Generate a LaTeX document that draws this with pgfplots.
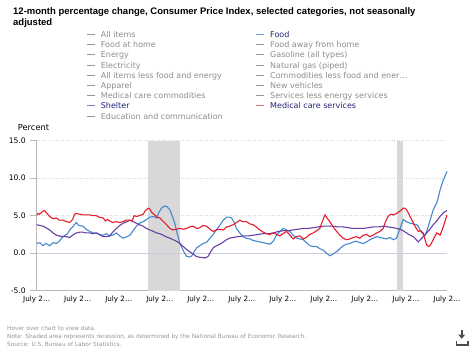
\documentclass[border=0pt]{standalone}
\usepackage{pgfplots}
\pgfplotsset{compat=1.18}
\usepackage{fontspec}
\setmainfont{DejaVu Sans}
\newfontfamily\titlefont{Liberation Sans}
\definecolor{foodc}{RGB}{70,135,205}
\definecolor{shelterc}{RGB}{105,65,165}
\definecolor{medc}{RGB}{228,28,45}
\definecolor{foodd}{RGB}{120,160,220}
\definecolor{shelterd}{RGB}{130,120,180}
\definecolor{medd}{RGB}{220,110,110}
\definecolor{graytext}{RGB}{140,140,140}
\definecolor{graydash}{RGB}{150,150,150}
\definecolor{navy}{RGB}{35,35,120}
\definecolor{axisgray}{RGB}{185,185,185}
\definecolor{gridgray}{RGB}{215,215,215}
\definecolor{recshade}{RGB}{216,216,216}
\definecolor{zeroline}{RGB}{205,205,225}
\definecolor{footgray}{RGB}{150,150,150}
\begin{document}
\begin{tikzpicture}[x=1pt,y=1pt]
\useasboundingbox (0,0) rectangle (474,351);
% title
\node[anchor=base west,inner sep=0] at (13,351-15) {\titlefont\bfseries\fontsize{9.5}{11}\selectfont 12-month percentage change, Consumer Price Index, selected categories, not seasonally};
\node[anchor=base west,inner sep=0] at (13,351-26) {\titlefont\bfseries\fontsize{9.5}{11}\selectfont adjusted};
% legend
\def\legrow#1#2#3#4#5{%
  \draw[#3,line width=1.1] (#1,351-#2) -- (#1+8,351-#2);
  \node[anchor=base west,inner sep=0,text=#4] at (#1+13.7,351-#2-3) {\fontsize{8}{9.6}\selectfont #5};}
\legrow{87}{34.5}{graydash}{graytext}{All items}
\legrow{87}{44.5}{graydash}{graytext}{Food at home}
\legrow{87}{54.5}{graydash}{graytext}{Energy}
\legrow{87}{65.5}{graydash}{graytext}{Electricity}
\legrow{87}{75.5}{graydash}{graytext}{All items less food and energy}
\legrow{87}{85.5}{graydash}{graytext}{Apparel}
\legrow{87}{95.5}{graydash}{graytext}{Medical care commodities}
\legrow{87}{105.5}{shelterd}{navy}{Shelter}
\legrow{87}{116.5}{graydash}{graytext}{Education and communication}
\legrow{256.3}{34.5}{foodd}{navy}{Food}
\legrow{256.3}{44.5}{graydash}{graytext}{Food away from home}
\legrow{256.3}{54.5}{graydash}{graytext}{Gasoline (all types)}
\legrow{256.3}{65.5}{graydash}{graytext}{Natural gas (piped)}
\legrow{256.3}{75.5}{graydash}{graytext}{Commodities less food and ener…}
\legrow{256.3}{85.5}{graydash}{graytext}{New vehicles}
\legrow{256.3}{95.5}{graydash}{graytext}{Services less energy services}
\legrow{256.3}{105.5}{medd}{navy}{Medical care services}
% Percent label
\node[anchor=base west,inner sep=0] at (17.7,351-131) {\fontsize{8.3}{10}\selectfont Percent};
\begin{axis}[
  at={(36.7pt,60.3pt)}, anchor=south west, scale only axis,
  width=410.3pt, height=150pt,
  xmin=2002.5, xmax=2022.5, ymin=-5, ymax=15,
  axis x line*=bottom, axis y line*=left,
  x axis line style={-,draw=axisgray,line width=0.8pt},
  y axis line style={-,draw=axisgray,line width=0.8pt},
  ytick={-5,0,5,10,15},
  yticklabels={-5.0,0.0,5.0,10.0,15.0},
  xtick={2002.5,2004.5,...,2022.5},
  xticklabels={July 2…,July 2…,July 2…,July 2…,July 2…,July 2…,July 2…,July 2…,July 2…,July 2…,July 2…},
  tick align=outside,
  major tick length=7pt,
  y tick style={draw=axisgray,line width=0.8pt},
  x tick style={draw=none},
  yticklabel style={font=\fontsize{7.6}{9}\selectfont, xshift=-0.5pt},
  xticklabel style={font=\fontsize{7.2}{9}\selectfont, yshift=5pt},
  ymajorgrids,
  y grid style={dotted,draw=gridgray,line width=0.6pt},
  clip=false,
]
\fill[recshade] (axis cs:2007.917,-5) rectangle (axis cs:2009.5,15);
\fill[recshade] (axis cs:2020.083,-5) rectangle (axis cs:2020.333,15);
\draw[zeroline,line width=0.8pt] (axis cs:2002.5,0) -- (axis cs:2022.5,0);
% Food
\addplot[foodc,line width=1.1pt,mark=none] coordinates {
(2002.5,1.3)(2002.65,1.4)(2002.81,1.0)(2002.95,1.3)(2003.13,1.0)(2003.3,1.4)(2003.46,1.3)(2003.6,1.6)(2003.78,2.2)(2004.0,2.6)(2004.11,3.1)(2004.25,3.5)(2004.43,4.1)(2004.55,3.7)(2004.76,3.6)(2004.9,3.2)(2005.09,2.9)(2005.25,2.7)(2005.41,2.7)(2005.55,2.5)(2005.74,2.4)(2005.9,2.6)(2006.06,2.3)(2006.2,2.4)(2006.39,2.7)(2006.55,2.3)(2006.71,2.0)(2006.9,2.2)(2007.04,2.4)(2007.2,3.0)(2007.36,3.6)(2007.5,4.0)(2007.69,4.2)(2007.85,4.5)(2008.01,4.8)(2008.2,4.9)(2008.34,4.7)(2008.45,5.4)(2008.58,6.0)(2008.74,6.3)(2008.85,6.2)(2008.99,5.8)(2009.1,5.0)(2009.23,4.0)(2009.35,2.6)(2009.48,1.3)(2009.65,0.3)(2009.80,-0.4)(2009.95,-0.5)(2010.05,-0.4)(2010.15,0.1)(2010.29,0.7)(2010.45,1.0)(2010.61,1.3)(2010.8,1.5)(2010.94,2.0)(2011.1,2.5)(2011.26,3.1)(2011.45,3.8)(2011.59,4.4)(2011.75,4.8)(2011.9,4.8)(2012.0,4.7)(2012.12,4.1)(2012.24,3.3)(2012.4,2.7)(2012.56,2.2)(2012.7,2.0)(2012.89,1.9)(2013.05,1.7)(2013.22,1.6)(2013.38,1.5)(2013.54,1.4)(2013.7,1.3)(2013.87,1.2)(2014.03,1.6)(2014.19,2.4)(2014.35,2.9)(2014.52,3.3)(2014.68,3.1)(2014.84,2.9)(2015.0,2.4)(2015.17,2.0)(2015.33,1.9)(2015.49,1.8)(2015.65,1.4)(2015.82,1.0)(2015.98,0.9)(2016.14,0.9)(2016.3,0.6)(2016.47,0.4)(2016.63,0.0)(2016.79,-0.35)(2016.95,-0.1)(2017.12,0.2)(2017.28,0.6)(2017.44,1.0)(2017.6,1.2)(2017.77,1.3)(2017.93,1.5)(2018.09,1.6)(2018.25,1.4)(2018.42,1.3)(2018.58,1.5)(2018.74,1.8)(2018.9,2.0)(2019.07,2.2)(2019.23,2.1)(2019.39,2.0)(2019.55,1.9)(2019.72,2.1)(2019.88,1.8)(2020.04,2.0)(2020.13,2.7)(2020.25,3.6)(2020.37,4.5)(2020.53,4.2)(2020.70,4.0)(2020.86,3.9)(2021.02,3.8)(2021.1,3.6)(2021.18,3.1)(2021.3,2.6)(2021.43,2.4)(2021.52,3.0)(2021.59,3.6)(2021.7,4.6)(2021.83,5.8)(2022.0,6.7)(2022.08,7.5)(2022.16,8.4)(2022.25,9.2)(2022.33,9.8)(2022.42,10.4)(2022.5,10.9)
};
% Shelter
\addplot[shelterc,line width=1.1pt,mark=none] coordinates {
(2002.5,3.8)(2002.65,3.7)(2002.81,3.6)(2002.95,3.4)(2003.13,3.1)(2003.3,2.7)(2003.46,2.4)(2003.6,2.3)(2003.78,2.2)(2003.95,2.2)(2004.11,2.1)(2004.25,2.4)(2004.43,2.7)(2004.6,2.8)(2004.76,2.8)(2004.9,2.7)(2005.09,2.7)(2005.25,2.6)(2005.41,2.7)(2005.55,2.5)(2005.74,2.2)(2005.9,2.2)(2006.06,2.3)(2006.2,2.8)(2006.39,3.3)(2006.55,3.7)(2006.71,4.0)(2006.9,4.2)(2007.04,4.4)(2007.2,4.2)(2007.36,4.0)(2007.5,3.8)(2007.69,3.6)(2007.85,3.3)(2008.01,3.1)(2008.2,2.9)(2008.34,2.7)(2008.5,2.6)(2008.66,2.4)(2008.8,2.2)(2008.99,2.0)(2009.15,1.8)(2009.31,1.6)(2009.48,1.3)(2009.64,0.9)(2009.8,0.5)(2009.96,0.2)(2010.12,-0.1)(2010.29,-0.45)(2010.45,-0.55)(2010.61,-0.6)(2010.75,-0.6)(2010.86,-0.4)(2010.98,0.2)(2011.10,0.7)(2011.26,1.0)(2011.43,1.2)(2011.6,1.5)(2011.75,1.8)(2011.9,2.0)(2012.08,2.1)(2012.3,2.2)(2012.56,2.3)(2012.8,2.3)(2013.05,2.4)(2013.3,2.5)(2013.54,2.6)(2013.8,2.6)(2014.03,2.7)(2014.28,2.9)(2014.52,3.0)(2014.75,3.0)(2015.0,3.1)(2015.25,3.2)(2015.49,3.3)(2015.75,3.3)(2015.98,3.4)(2016.22,3.5)(2016.47,3.6)(2016.7,3.6)(2016.96,3.6)(2017.2,3.5)(2017.44,3.5)(2017.7,3.4)(2017.93,3.3)(2018.18,3.3)(2018.42,3.3)(2018.66,3.4)(2018.91,3.5)(2019.15,3.5)(2019.39,3.6)(2019.63,3.5)(2019.88,3.4)(2020.04,3.3)(2020.20,3.2)(2020.36,3.0)(2020.53,2.7)(2020.7,2.4)(2020.86,2.2)(2021.0,1.8)(2021.1,1.5)(2021.2,1.8)(2021.34,2.2)(2021.51,2.7)(2021.67,3.2)(2021.83,3.8)(2022.0,4.3)(2022.16,4.9)(2022.33,5.4)(2022.5,5.7)
};
% Medical care services
\addplot[medc,line width=1.1pt,mark=none] coordinates {
(2002.5,5.1)(2002.58,5.3)(2002.65,5.2)(2002.75,5.5)(2002.89,5.7)(2003.0,5.3)(2003.13,4.9)(2003.3,4.6)(2003.46,4.7)(2003.6,4.4)(2003.78,4.4)(2003.95,4.2)(2004.11,4.1)(2004.25,4.5)(2004.35,5.2)(2004.43,5.3)(2004.6,5.2)(2004.76,5.1)(2004.9,5.1)(2005.09,5.1)(2005.25,5.0)(2005.41,5.0)(2005.55,4.8)(2005.74,4.7)(2005.85,4.3)(2005.95,4.5)(2006.06,4.3)(2006.2,4.1)(2006.39,4.2)(2006.55,4.1)(2006.71,4.2)(2006.85,4.4)(2007.04,4.4)(2007.15,4.3)(2007.25,5.0)(2007.36,4.9)(2007.5,5.0)(2007.69,5.2)(2007.78,5.6)(2007.85,5.8)(2007.95,6.0)(2008.01,5.9)(2008.12,5.4)(2008.26,5.1)(2008.38,4.8)(2008.50,4.7)(2008.65,4.3)(2008.83,3.8)(2009.0,3.3)(2009.15,3.1)(2009.3,3.2)(2009.48,3.3)(2009.65,3.2)(2009.80,3.3)(2009.95,3.5)(2010.13,3.6)(2010.3,3.3)(2010.45,3.4)(2010.6,3.7)(2010.78,3.6)(2010.95,3.2)(2011.10,2.9)(2011.26,3.1)(2011.43,3.2)(2011.6,3.1)(2011.75,3.5)(2011.9,3.6)(2012.08,3.8)(2012.25,4.1)(2012.40,4.4)(2012.55,4.2)(2012.73,4.2)(2012.9,3.9)(2013.05,3.8)(2013.2,3.5)(2013.38,3.1)(2013.55,2.8)(2013.70,2.6)(2013.85,2.5)(2014.03,2.7)(2014.2,2.5)(2014.35,2.3)(2014.5,2.6)(2014.68,2.9)(2014.85,2.4)(2015.0,1.9)(2015.15,2.2)(2015.33,2.3)(2015.5,1.9)(2015.65,2.1)(2015.8,2.5)(2015.98,2.7)(2016.15,3.0)(2016.30,3.3)(2016.42,4.2)(2016.55,5.1)(2016.65,4.7)(2016.79,4.2)(2016.95,3.5)(2017.12,2.9)(2017.28,2.4)(2017.44,2.0)(2017.6,1.8)(2017.77,1.9)(2017.93,2.1)(2018.09,2.2)(2018.25,2.0)(2018.42,2.4)(2018.58,2.5)(2018.74,2.2)(2018.9,2.4)(2019.07,2.7)(2019.23,2.9)(2019.39,3.3)(2019.5,4.2)(2019.63,4.9)(2019.75,5.2)(2019.88,5.1)(2020.04,5.3)(2020.20,5.6)(2020.37,6.0)(2020.45,6.0)(2020.53,5.8)(2020.7,4.9)(2020.86,4.0)(2020.98,3.4)(2021.10,2.9)(2021.22,3.0)(2021.34,2.7)(2021.42,1.9)(2021.51,1.1)(2021.6,0.9)(2021.67,1.0)(2021.75,1.4)(2021.83,1.8)(2021.92,2.3)(2022.0,2.7)(2022.08,2.6)(2022.16,2.4)(2022.25,3.0)(2022.33,3.6)(2022.42,4.4)(2022.5,5.1)
};
\end{axis}
% footer
\node[anchor=base west,inner sep=0,text=footgray] at (7,351-330.5) {\fontsize{5.8}{6.5}\selectfont Hover over chart to view data.};
\node[anchor=base west,inner sep=0,text=footgray] at (7,351-338.8) {\fontsize{5.8}{6.5}\selectfont Note: Shaded area represents recession, as determined by the National Bureau of Economic Research.};
\node[anchor=base west,inner sep=0,text=footgray] at (7,351-346.5) {\fontsize{5.8}{6.5}\selectfont Source: U.S. Bureau of Labor Statistics.};
% download icon
\fill[black!70] (458.2,351-334.5) -- (465.2,351-334.5) -- (461.7,351-338.8) -- cycle;
\draw[black!70,line width=2pt] (461.7,351-329.8) -- (461.7,351-335);
\draw[black!70,line width=1.2pt] (456.7,351-340.5) -- (456.7,351-345) -- (468,351-345) -- (468,351-340.5);
\end{tikzpicture}
\end{document}
